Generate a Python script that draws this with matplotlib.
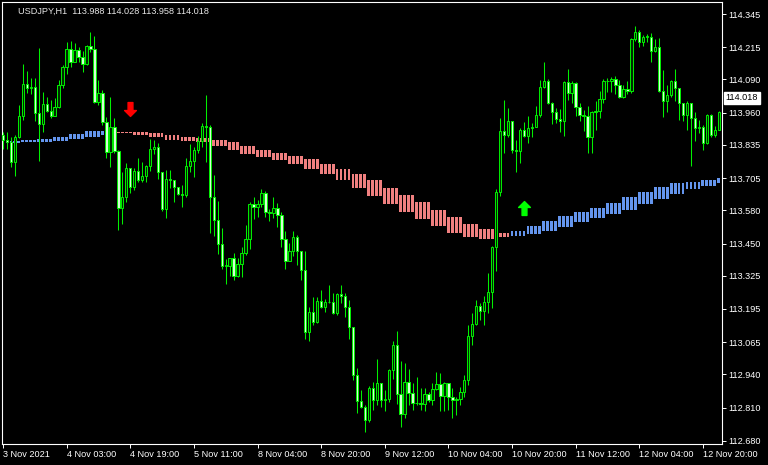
import matplotlib
matplotlib.use('Agg')
import matplotlib.pyplot as plt
import numpy as np
from matplotlib.path import Path
import matplotlib.transforms as mtransforms

plt.rcParams['font.family'] = ['Liberation Sans', 'DejaVu Sans']

# USDJPY H1 bars (3 Nov 2021 11:00 ... 12 Nov)
opens = [113.873, 113.853, 113.847, 113.766, 113.867, 113.947, 114.071, 114.058, 114.062, 113.960,
         113.916, 113.993, 113.968, 113.948, 113.981, 114.068, 114.138, 114.208, 114.159, 114.203,
         114.178, 114.150, 114.220, 114.207, 114.003, 114.038, 113.925, 113.808, 113.906, 113.811,
         113.587, 113.630, 113.743, 113.672, 113.734, 113.698, 113.714, 113.752, 113.817, 113.825,
         113.727, 113.583, 113.701, 113.698, 113.672, 113.643, 113.639, 113.754, 113.772, 113.815,
         113.851, 113.909, 113.906, 113.630, 113.542, 113.448, 113.364, 113.364, 113.393, 113.325,
         113.370, 113.412, 113.468, 113.604, 113.594, 113.603, 113.646, 113.571, 113.568, 113.588,
         113.562, 113.468, 113.383, 113.419, 113.474, 113.422, 113.347, 113.106, 113.182, 113.143,
         113.227, 113.201, 113.222, 113.221, 113.178, 113.253, 113.246, 113.204, 113.123, 112.937,
         112.837, 112.814, 112.762, 112.888, 112.840, 112.905, 112.840, 112.843, 112.957, 113.053,
         112.863, 112.785, 112.910, 112.866, 112.827, 112.827, 112.824, 112.863, 112.840, 112.884,
         112.902, 112.856, 112.905, 112.850, 112.840, 112.843, 112.873, 112.918, 113.090, 113.136,
         113.208, 113.188, 113.221, 113.261, 113.438, 113.651, 113.890, 113.874, 113.926, 113.815,
         113.812, 113.893, 113.871, 113.902, 113.903, 113.952, 114.062, 114.085, 113.997, 113.964,
         113.935, 113.928, 114.078, 114.036, 114.075, 113.981, 113.952, 113.948, 113.867, 113.963,
         113.967, 114.013, 114.084, 114.083, 114.093, 114.068, 114.020, 114.052, 114.043, 114.247,
         114.276, 114.234, 114.257, 114.257, 114.202, 114.218, 114.043, 114.004, 114.030, 114.085,
         114.056, 113.997, 113.952, 113.997, 113.939, 113.900, 113.906, 113.841, 113.952, 113.874,
         113.893]
highs = [113.883, 113.883, 113.867, 113.873, 113.990, 114.149, 114.124, 114.094, 114.094, 114.214,
         114.042, 114.023, 114.010, 114.016, 114.088, 114.146, 114.237, 114.240, 114.231, 114.218,
         114.201, 114.224, 114.276, 114.260, 114.088, 114.049, 113.945, 114.023, 113.941, 113.815,
         113.730, 113.763, 113.746, 113.743, 113.782, 113.769, 113.756, 113.857, 113.854, 113.841,
         113.730, 113.737, 113.737, 113.698, 113.669, 113.678, 113.782, 113.838, 113.828, 113.870,
         113.919, 114.029, 113.912, 113.718, 113.614, 113.510, 113.389, 113.393, 113.412, 113.393,
         113.435, 113.522, 113.610, 113.633, 113.620, 113.663, 113.655, 113.584, 113.633, 113.607,
         113.571, 113.497, 113.454, 113.500, 113.482, 113.422, 113.419, 113.201, 113.240, 113.243,
         113.269, 113.233, 113.288, 113.256, 113.259, 113.288, 113.256, 113.230, 113.126, 112.964,
         112.879, 112.820, 112.895, 112.912, 112.999, 112.908, 112.879, 112.960, 113.071, 113.110,
         112.993, 112.986, 112.960, 112.908, 112.928, 112.886, 112.886, 112.873, 112.905, 112.950,
         112.947, 112.912, 112.908, 112.886, 112.853, 112.892, 112.938, 113.133, 113.178, 113.230,
         113.217, 113.246, 113.337, 113.441, 113.662, 113.938, 114.010, 113.977, 113.929, 113.854,
         113.899, 113.925, 113.948, 113.919, 113.987, 114.088, 114.156, 114.091, 114.000, 113.977,
         113.974, 114.082, 114.130, 114.085, 114.078, 113.997, 113.971, 113.987, 113.968, 114.004,
         114.045, 114.091, 114.094, 114.101, 114.104, 114.088, 114.069, 114.082, 114.251, 114.299,
         114.283, 114.264, 114.267, 114.270, 114.247, 114.251, 114.127, 114.069, 114.088, 114.130,
         114.056, 113.997, 114.004, 113.997, 113.961, 113.932, 113.913, 113.956, 113.956, 113.909,
         113.965]
lows = [113.818, 113.818, 113.750, 113.714, 113.860, 113.932, 114.036, 114.032, 113.928, 113.773,
        113.886, 113.961, 113.941, 113.954, 113.977, 114.055, 114.110, 114.140, 114.159, 114.159,
        114.117, 114.146, 114.198, 113.997, 113.990, 113.912, 113.785, 113.750, 113.802, 113.502,
        113.528, 113.613, 113.646, 113.659, 113.691, 113.688, 113.688, 113.733, 113.798, 113.701,
        113.577, 113.548, 113.665, 113.613, 113.639, 113.591, 113.633, 113.727, 113.711, 113.802,
        113.825, 113.766, 113.493, 113.480, 113.409, 113.351, 113.292, 113.324, 113.308, 113.318,
        113.318, 113.406, 113.428, 113.545, 113.555, 113.591, 113.555, 113.539, 113.548, 113.516,
        113.438, 113.351, 113.380, 113.402, 113.366, 113.308, 113.077, 113.068, 113.132, 113.139,
        113.197, 113.184, 113.217, 113.175, 113.172, 113.217, 113.162, 113.077, 112.918, 112.791,
        112.808, 112.716, 112.756, 112.801, 112.820, 112.814, 112.798, 112.834, 112.921, 112.824,
        112.733, 112.769, 112.820, 112.801, 112.820, 112.801, 112.798, 112.834, 112.820, 112.879,
        112.798, 112.798, 112.801, 112.769, 112.782, 112.820, 112.853, 112.899, 113.055, 113.133,
        113.152, 113.133, 113.181, 113.198, 113.341, 113.636, 113.802, 113.867, 113.802, 113.727,
        113.763, 113.864, 113.841, 113.867, 113.903, 113.945, 114.056, 113.994, 113.916, 113.919,
        113.883, 113.870, 114.010, 113.997, 113.948, 113.929, 113.890, 113.802, 113.802, 113.893,
        113.939, 113.997, 114.042, 114.042, 114.033, 114.016, 114.016, 114.033, 114.036, 114.241,
        114.215, 114.221, 114.234, 114.156, 114.195, 114.039, 113.945, 113.961, 114.023, 114.004,
        113.932, 113.929, 113.893, 113.754, 113.848, 113.880, 113.815, 113.838, 113.867, 113.867,
        113.906]
closes = [113.853, 113.847, 113.766, 113.867, 113.947, 114.071, 114.058, 114.062, 113.960, 113.916,
          113.993, 113.968, 113.948, 113.981, 114.068, 114.138, 114.208, 114.159, 114.203, 114.178,
          114.150, 114.220, 114.207, 114.003, 114.038, 113.925, 113.808, 113.906, 113.811, 113.587,
          113.630, 113.743, 113.672, 113.734, 113.698, 113.714, 113.752, 113.817, 113.825, 113.727,
          113.583, 113.701, 113.698, 113.672, 113.643, 113.639, 113.754, 113.772, 113.815, 113.851,
          113.909, 113.906, 113.630, 113.542, 113.448, 113.364, 113.364, 113.393, 113.325, 113.370,
          113.412, 113.468, 113.604, 113.594, 113.603, 113.646, 113.571, 113.568, 113.588, 113.562,
          113.468, 113.383, 113.419, 113.474, 113.422, 113.347, 113.106, 113.182, 113.143, 113.227,
          113.201, 113.222, 113.221, 113.178, 113.253, 113.246, 113.204, 113.123, 112.937, 112.837,
          112.814, 112.762, 112.888, 112.840, 112.905, 112.840, 112.843, 112.957, 113.053, 112.863,
          112.785, 112.910, 112.866, 112.827, 112.827, 112.824, 112.863, 112.840, 112.884, 112.902,
          112.856, 112.905, 112.850, 112.840, 112.843, 112.873, 112.918, 113.090, 113.136, 113.208,
          113.188, 113.221, 113.261, 113.438, 113.651, 113.890, 113.874, 113.926, 113.815, 113.812,
          113.893, 113.871, 113.902, 113.903, 113.952, 114.062, 114.085, 113.997, 113.964, 113.935,
          113.928, 114.078, 114.036, 114.075, 113.981, 113.952, 113.948, 113.867, 113.963, 113.967,
          114.013, 114.084, 114.083, 114.093, 114.068, 114.020, 114.052, 114.043, 114.247, 114.276,
          114.234, 114.257, 114.257, 114.202, 114.218, 114.043, 114.004, 114.030, 114.085, 114.056,
          113.997, 113.952, 113.997, 113.939, 113.900, 113.906, 113.841, 113.952, 113.874, 113.893,
          113.961]

# H4 trend band (one value pair per H4 block)
band_start = [0, 1, 5, 9, 13, 17, 21, 25, 29, 33, 37, 41, 45, 49, 53, 57, 60, 64, 68, 72, 76, 80,
              84, 88, 92, 96, 100, 104, 108, 112, 116, 120, 124, 128, 132, 136, 140, 144, 148, 152,
              156, 160, 164, 168, 172, 176, 180]
band_top = [113.850, 113.850, 113.854, 113.858, 113.866, 113.876, 113.888, 113.888, 113.885, 113.884,
            113.882, 113.874, 113.866, 113.862, 113.853, 113.845, 113.830, 113.814, 113.802, 113.791,
            113.779, 113.759, 113.740, 113.720, 113.697, 113.666, 113.639, 113.611, 113.580, 113.553,
            113.525, 113.506, 113.490, 113.498, 113.518, 113.537, 113.557, 113.572, 113.588, 113.607,
            113.631, 113.650, 113.670, 113.685, 113.689, 113.697, 113.705]
band_bottom = [113.842, 113.842, 113.845, 113.845, 113.849, 113.857, 113.865, 113.873, 113.880, 113.873,
               113.865, 113.853, 113.849, 113.844, 113.830, 113.814, 113.798, 113.787, 113.775, 113.759,
               113.740, 113.720, 113.697, 113.666, 113.635, 113.603, 113.572, 113.545, 113.518, 113.490,
               113.475, 113.467, 113.475, 113.479, 113.486, 113.498, 113.514, 113.533, 113.549, 113.564,
               113.580, 113.603, 113.623, 113.642, 113.662, 113.674, 113.685]
band_trend = [1, 1, 1, 1, 1, 1, 1, 1, -1, -1, -1, -1, -1, -1, -1, -1, -1, -1, -1, -1, -1, -1, -1, -1,
              -1, -1, -1, -1, -1, -1, -1, -1, -1, 1, 1, 1, 1, 1, 1, 1, 1, 1, 1, 1, 1, 1, 1]

# signal arrows (bar, price)
sell_signal = (32, 113.974)
buy_signal = (131, 113.588)

y_ticks = [114.345, 114.215, 114.090, 113.960, 113.835, 113.705, 113.580, 113.450,
           113.325, 113.195, 113.065, 112.940, 112.810, 112.680]
x_tick_bars = [0, 16, 32, 48, 64, 80, 96, 112, 128, 144, 160, 176]
x_tick_labels = ['3 Nov 2021', '4 Nov 03:00', '4 Nov 19:00', '5 Nov 11:00', '8 Nov 04:00',
                 '8 Nov 20:00', '9 Nov 12:00', '10 Nov 04:00', '10 Nov 20:00', '11 Nov 12:00',
                 '12 Nov 04:00', '12 Nov 20:00']
header = 'USDJPY,H1  113.988 114.028 113.958 114.018'
last_price = 114.018

o = np.array(opens); h = np.array(highs); l = np.array(lows); c = np.array(closes)
x = np.arange(len(c))

fig = plt.figure(figsize=(7.68, 4.65), dpi=100, facecolor='black')
ax = fig.add_axes([2/768, 21/465, 720/768, 442/465])
ax.set_facecolor('black')

# band
lengths = np.diff(band_start + [len(c)])
top = np.repeat(band_top, lengths)
bot = np.repeat(band_bottom, lengths)
trend = np.repeat(band_trend, lengths)
band_cols = np.where(trend > 0, '#6495ED', '#F08080')
ax.bar(x, top - bot, bottom=bot, width=0.72, color=band_cols, lw=0, zorder=2)

# candles
green = '#00f000'
ax.vlines(x, l, h, colors=green, lw=0.75, zorder=3)
bull = c >= o
body = np.maximum(np.abs(c - o), 0.0015)
ax.bar(x[bull], body[bull], bottom=np.minimum(o, c)[bull], width=0.6,
       facecolor='#002a00', edgecolor=green, lw=0.7, zorder=4)
ax.bar(x[~bull], body[~bull], bottom=np.minimum(o, c)[~bull], width=0.6,
       facecolor='#d4ffd4', edgecolor=green, lw=0.7, zorder=4)

# arrows
up_arrow = Path([(0, 1), (0.85, 0.15), (0.35, 0.15), (0.35, -1), (-0.35, -1),
                 (-0.35, 0.15), (-0.85, 0.15), (0, 1)], closed=True)
down_arrow = Path([(0, -1), (0.85, -0.15), (0.35, -0.15), (0.35, 1), (-0.35, 1),
                   (-0.35, -0.15), (-0.85, -0.15), (0, -1)], closed=True)
ax.plot(*sell_signal, marker=down_arrow, ms=10, color='#ff0000', mec='#ff0000', ls='none', zorder=5)
ax.plot(*buy_signal, marker=up_arrow, ms=10, color='#00ff00', mec='#00ff00', ls='none', zorder=5)

# axes
ax.set_xlim(-0.25, 180.8)
ax.set_ylim(112.6683, 114.3918)
for s in ax.spines.values():
    s.set_color('white')
    s.set_linewidth(0.8)
ax.yaxis.tick_right()
ax.set_yticks(y_ticks)
ax.set_yticklabels([f'{v:.3f}' for v in y_ticks])
ax.set_xticks(x_tick_bars)
ax.set_xticklabels(x_tick_labels, ha='left')
ax.tick_params(colors='white', labelcolor='white', labelsize=6.6, length=3, width=0.7, pad=1.5)

trans = mtransforms.blended_transform_factory(ax.transAxes, ax.transData)
ax.text(1.005, last_price, f'{last_price:.3f}', transform=trans, ha='left', va='center',
        color='black', fontsize=6.6,
        bbox=dict(boxstyle='square,pad=0.2', facecolor='white', edgecolor='white'))

fig.text(18/768, 1 - 11/465, header, color='#e6e6e6', fontsize=6.6, va='center', ha='left')

plt.savefig('out.png', dpi=100, facecolor='black')
